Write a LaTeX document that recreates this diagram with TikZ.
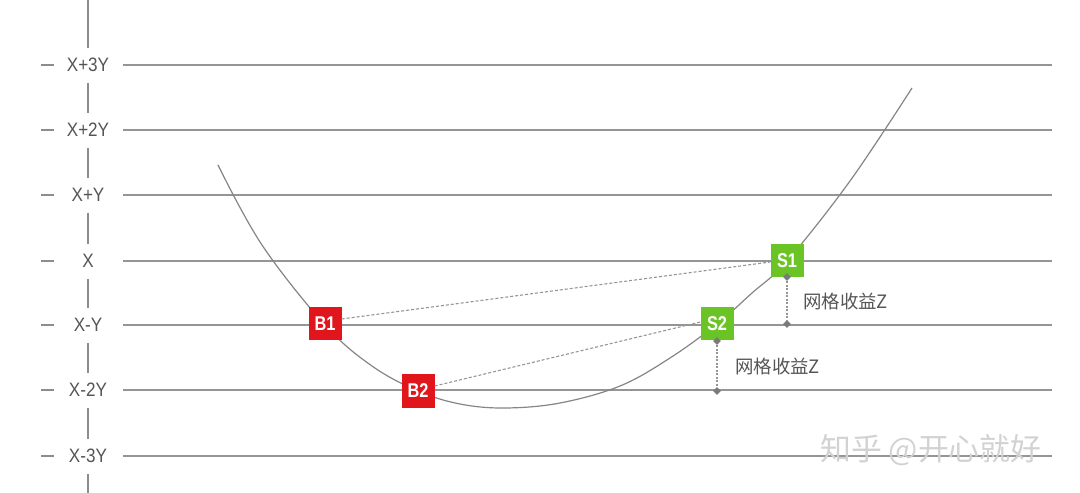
\documentclass[tikz,border=0pt]{standalone}
\usepackage{fontspec}
\setmainfont{Liberation Sans}
\newfontfamily\narrowsans[FakeStretch=0.88]{Liberation Sans}
\newfontfamily\narrowbold[FakeStretch=0.82]{Liberation Sans Bold}
\newfontfamily\cjk{Noto Sans CJK SC}
\usetikzlibrary{shapes.geometric}
\definecolor{gridgray}{HTML}{959595}
\definecolor{axisgray}{HTML}{8C8C8C}
\definecolor{txtgray}{HTML}{555555}
\definecolor{curvegray}{HTML}{858585}
\definecolor{buyred}{HTML}{E0161C}
\definecolor{sellgreen}{HTML}{6BC425}
\definecolor{markgray}{HTML}{7A7A7A}
\tikzset{
  lvl/.style={text=txtgray, font=\narrowsans\fontsize{19.5}{19.5}\selectfont, inner sep=0pt, anchor=center},
  gridline/.style={draw=gridgray, line width=1.4bp},
  axisline/.style={draw=axisgray, line width=1.4bp},
  tickline/.style={draw=axisgray, line width=1.4bp},
  curveline/.style={draw=curvegray, line width=1.2bp},
  buybox/.style={fill=buyred, text=white, minimum size=33bp, inner sep=0pt, font=\narrowbold\fontsize{20}{20}\selectfont},
  sellbox/.style={fill=sellgreen, text=white, minimum size=33bp, inner sep=0pt, font=\narrowbold\fontsize{20}{20}\selectfont},
  linkline/.style={draw=gridgray, line width=1.1bp, dash pattern=on 3bp off 2bp},
  dotline/.style={draw=gridgray, line width=1.1bp, dash pattern=on 2bp off 1.5bp},
  dia/.style={diamond, fill=markgray, inner sep=0pt, minimum size=8bp},
  gain/.style={text=txtgray, font=\cjk\fontsize{18.5}{18.5}\selectfont, inner sep=0pt, anchor=west},
  wmark/.style={text=gray!35, font=\cjk\fontsize{31}{31}\selectfont, inner sep=0pt, anchor=west}
}
\begin{document}
\begin{tikzpicture}[x=1bp,y=-1bp]
\useasboundingbox (0,0) rectangle (1080,493);
% levels
\foreach \yy/\tt/\nn in {65/X+3Y/a, 130/X+2Y/b, 195/X+Y/c, 261/X/d, 325/X-Y/e, 390/X-2Y/f, 456/X-3Y/g}{
  \node[lvl] (L\nn) at (88,\yy) {\tt};
  \coordinate (TL\nn) at (41,\yy);
  \coordinate (TR\nn) at (54,\yy);
  \coordinate (GL\nn) at (123,\yy);
  \coordinate (GR\nn) at (1052,\yy);
  \draw[tickline] (TL\nn) -- (TR\nn);
  \draw[gridline] (GL\nn) -- (GR\nn);
}
% vertical axis segments
\coordinate (V0) at (88,0);
\coordinate (V7) at (88,493);
\draw[axisline] (V0) -- ([yshift=17bp]La.center);
\draw[axisline] ([yshift=-18bp]La.center) -- ([yshift=17bp]Lb.center);
\draw[axisline] ([yshift=-18bp]Lb.center) -- ([yshift=17bp]Lc.center);
\draw[axisline] ([yshift=-18bp]Lc.center) -- ([yshift=17bp]Ld.center);
\draw[axisline] ([yshift=-18bp]Ld.center) -- ([yshift=17bp]Le.center);
\draw[axisline] ([yshift=-18bp]Le.center) -- ([yshift=17bp]Lf.center);
\draw[axisline] ([yshift=-18bp]Lf.center) -- ([yshift=17bp]Lg.center);
\draw[axisline] ([yshift=-18bp]Lg.center) -- (V7);
% curve
\draw[curveline] plot[smooth, tension=0.6] coordinates {
  (218,165) (262,245) (325,325) (372,366) (418,391) (460,404) (505,408)
  (560,403) (620,386) (670,358) (717,324) (752,293) (787,261) (850,181) (912,88)};
% boxes
\node[buybox] (B1) at (325,324) {B1};
\node[buybox] (B2) at (418,391) {B2};
\node[sellbox] (S2) at (717,324) {S2};
\node[sellbox] (S1) at (787,261) {S1};
% links
\draw[linkline] ([yshift=5bp]B1.east) -- ([yshift=-1bp]S1.west);
\draw[linkline] ([yshift=5bp]B2.east) -- ([yshift=2bp]S2.west);
% gain markers
\node[dia] (m1a) at (787,277) {};
\node[dia] (m1b) at (787,324) {};
\node[dia] (m2a) at (717,341) {};
\node[dia] (m2b) at (717,391) {};
\draw[dotline] (m1a) -- (m1b);
\draw[dotline] (m2a) -- (m2b);
\node[gain] (g1) at (803,301) {网格收益Z};
\node[gain] (g2) at (735,366) {网格收益Z};
% watermark
\node[wmark] (wm) at (820,450) {知乎 @开心就好};
\end{tikzpicture}
\end{document}
